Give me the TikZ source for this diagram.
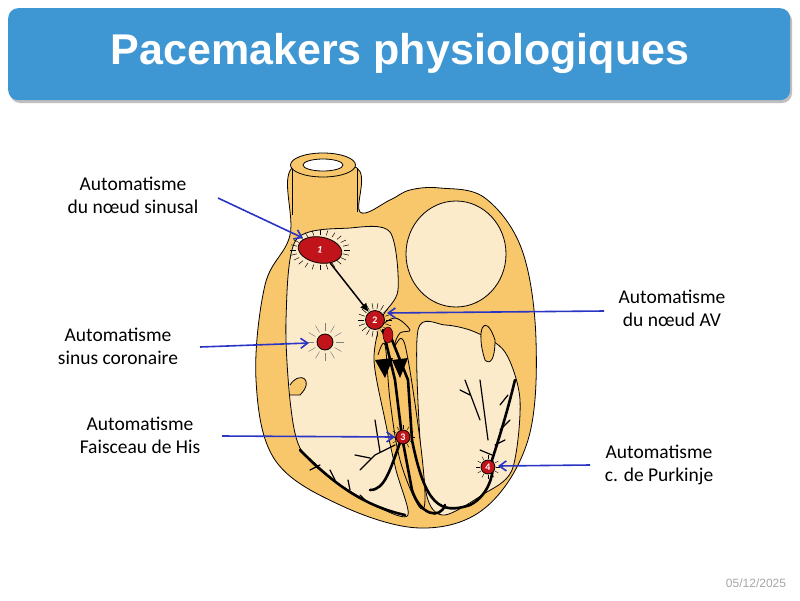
\documentclass[tikz,border=0pt]{standalone}
\usepackage{fontspec}
\setmainfont{Carlito}
\newfontfamily\titlefont{Liberation Sans}
\usetikzlibrary{arrows.meta,calc,shapes.geometric}
\definecolor{tblue}{HTML}{3E97D3}
\definecolor{ayel}{HTML}{F8C76B}
\definecolor{cream}{HTML}{FCEBCB}
\definecolor{nred}{HTML}{C0141A}
\definecolor{ablue}{HTML}{2B35C4}
\tikzset{
 lab/.style={align=center,font=\fontsize{19.5}{23}\selectfont},
 parr/.style={ablue,line width=1.6pt,-{Straight Barb[length=7pt,width=10pt]}},
 pace/.style={fill=nred,draw=black,line width=0.8pt},
 num/.style={text=white,font=\bfseries\fontsize{10}{10}\selectfont},
 wall/.style={draw=black,line width=0.8pt},
 fib/.style={black,line width=2.6pt,line cap=round},
 twig/.style={black,line width=1.2pt,line cap=round}
}
\begin{document}
\begin{tikzpicture}[x=1pt,y=-1pt]
\useasboundingbox (0,0) rectangle (800,600);
\fill[white] (0,0) rectangle (800,600);
\fill[black!25,rounded corners=10pt] (10,11) rectangle (792,103);
\node[fill=tblue,rounded corners=10pt,minimum width=782pt,minimum height=92pt,anchor=north west,inner sep=0] (title) at (8,8) {};
\node[text=white,font=\titlefont\bfseries\fontsize{43}{45}\selectfont] (tt) at (400,53) {Pacemakers physiologiques};
% heart outer
\path[wall,fill=ayel] plot[smooth cycle,tension=0.6] coordinates{(292,168)(290,235)(265,285)(256,380)(275,460)(340,505)(420,528)(485,508)(528,440)(536,340)(522,250)(485,198)(440,188)(410,190)(390,200)(360,212)(357,168)};
\draw[wall,fill=ayel] (292,168) -- (292,215) (357,168) -- (357,212);
\draw[wall,fill=ayel] (323,165) ellipse[x radius=32.5pt,y radius=12pt];
\draw[wall,fill=white] (323,165) ellipse[x radius=20pt,y radius=6pt];
% left cavity
\path[wall,fill=cream] plot[smooth cycle,tension=0.5] coordinates{(296,240)(350,228)(390,232)(398,290)(382,318)(374,360)(385,420)(396,470)(408,515)(380,508)(330,478)(300,448)(290,400)(286,320)};
% right cavity
\path[wall,fill=cream] plot[smooth cycle,tension=0.5] coordinates{(418,330)(445,325)(475,332)(505,352)(520,400)(512,470)(482,495)(445,515)(428,500)(420,440)};
% left atrium
\draw[wall,fill=cream] (456,254) ellipse[x radius=50pt,y radius=53pt];
% septum inner strip
\path[wall,fill=ayel] plot[smooth,tension=0.6] coordinates{(378,328)(395,318)(410,330)(400,333)(395,345)(405,345)(420,440)(425,500)(418,505)(400,460)(390,400)(385,345)(378,355)};
\draw[wall,fill=ayel] (495,340) .. controls (485,310) and (475,330) .. (485,360) .. controls (490,365) and (495,360) .. (495,340);
\draw[wall,fill=ayel] (290,385) .. controls (300,370) and (315,380) .. (300,395) -- (290,395);
% conduction
\draw[fib] (383,330) -- (395,380) -- (402,437) -- (412,490) .. controls (420,515) and (440,520) .. (445,505);
\draw[fib] (388,330) -- (408,380) -- (412,440) .. controls (425,505) and (440,515) .. (470,505) .. controls (490,495) and (495,470) .. (492,460) .. controls (505,420) and (510,400) .. (515,380);
\draw[fib] (402,437) .. controls (390,470) and (385,490) .. (370,490);
\draw[fib] (405,515) .. controls (360,505) and (330,480) .. (300,450);
\draw[twig] (395,445) -- (375,455) -- (360,470) (380,452) -- (375,420) (370,458)--(355,455) (480,420) -- (465,380) (488,440) -- (480,380) (470,395)--(460,390) (500,430)--(510,420) (495,445)--(505,440) (492,455)--(480,450) (500,405)--(508,395) (335,480)--(330,470) (350,490)--(348,480) (365,500)--(360,495) (320,465)--(310,470);
\fill (375,360) -- (385,378) -- (393,358) -- cycle;
\fill (392,360) -- (400,378) -- (408,358) -- cycle;
% sinus node
\foreach \a in {0,15,...,359}{\draw[line width=0.5pt] ($(320,250)+(\a:24pt and 15pt)$) -- ($(320,250)+(\a:30pt and 20pt)$);}
\node[pace,ellipse,minimum width=44pt,minimum height=26pt,inner sep=0,num,rotate=-10] (n1) at (320,250) {1};
\foreach \a in {0,20,...,359}{\draw[line width=0.5pt] ($(375,320)+(\a:11pt)$) -- ($(375,320)+(\a:17pt)$);}
\node[pace,circle,minimum size=19pt,inner sep=0,num] (n2) at (375,320) {2};
\fill[nred,draw=black] (388,335) ellipse[x radius=5pt,y radius=8pt];
\foreach \a in {0,30,...,359}{\draw[line width=0.5pt,gray] ($(325,342)+(\a:11pt)$) -- ($(325,342)+(\a:19pt)$);}
\node[pace,circle,minimum size=16pt,inner sep=0] (cs) at (325,342) {};
\foreach \a in {0,30,...,359}{\draw[line width=0.4pt] ($(403,437)+(\a:8pt)$) -- ($(403,437)+(\a:12pt)$);}
\node[pace,circle,minimum size=14pt,inner sep=0,num] (n3) at (403,437) {3};
\foreach \a in {0,30,...,359}{\draw[line width=0.4pt] ($(488,467)+(\a:8pt)$) -- ($(488,467)+(\a:12pt)$);}
\node[pace,circle,minimum size=14pt,inner sep=0,num] (n4) at (488,467) {4};
\draw[line width=1.5pt,-{Latex[length=9pt,width=8pt]}] (n1) -- (n2);
% labels
\node[lab] (l1) at (133,195) {Automatisme\\du nœud sinusal};
\node[lab] (l2) at (118,346) {Automatisme\\sinus coronaire};
\node[lab] (l3) at (140,435) {Automatisme\\Faisceau de His};
\node[lab] (l4) at (672,308) {Automatisme\\du nœud AV};
\node[lab] (l5) at (659,465) {Automatisme\\c. de Purkinje};
\coordinate (a1) at (218,198); \coordinate (a2) at (200,347); \coordinate (a3) at (222,436);
\coordinate (a4) at (604,311); \coordinate (a5) at (590,465);
\draw[parr] (a1) -- (303,238);
\draw[parr] (a2) -- (309,343);
\draw[parr] (a3) -- (395,437);
\draw[parr] (a4) -- (387,313);
\draw[parr] (a5) -- (498,466);
\node[text=black!35,font=\titlefont\fontsize{12}{14}\selectfont] (date) at (756,583) {05/12/2025};
\end{tikzpicture}
\end{document}
